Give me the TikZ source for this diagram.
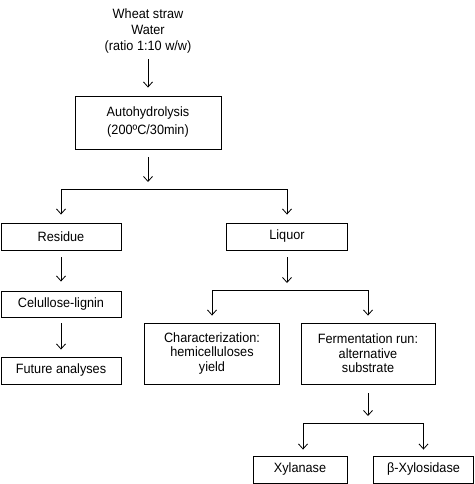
\documentclass[tikz,border=0pt]{standalone}
\usepackage{fontspec}
\setmainfont{Liberation Sans}[FakeStretch=0.94]
\usetikzlibrary{arrows.meta}
\begin{document}
\begin{tikzpicture}[x=1pt,y=-1pt,
  txt/.style={align=center, inner sep=0pt, font=\fontsize{13.5}{15}\selectfont},
  box/.style={txt, draw, line width=0.9pt},
  arr/.style={-{Straight Barb[length=5pt,width=9pt]}, line width=0.8pt},
  ln/.style={line width=0.8pt}]
\useasboundingbox (0,0) rectangle (474,484);
% nodes
\node[txt, font=\fontsize{13.5}{16}\selectfont] (src) at (148,31) {Wheat straw\\Water\\(ratio 1:10 w/w)};
\node[box, font=\fontsize{13.5}{18}\selectfont, minimum width=146pt, minimum height=53pt] (auto) at (148,122.5) {Autohydrolysis\\(200ºC/30min)};
\node[box, minimum width=120pt, minimum height=27pt] (res) at (61,236.5) {Residue};
\node[box, minimum width=121pt, minimum height=27pt] (liq) at (287,236.5) {Liquor};
\node[box, minimum width=120pt, minimum height=26pt] (cel) at (61,304) {Celullose-lignin};
\node[box, minimum width=120pt, minimum height=27pt] (fut) at (61,370.5) {Future analyses};
\node[box, font=\fontsize{13.5}{14.5}\selectfont, minimum width=135pt, minimum height=61pt] (char) at (212,353.5) {Characterization:\\hemicelluloses\\yield};
\node[box, font=\fontsize{13.5}{14.5}\selectfont, minimum width=134pt, minimum height=61pt] (ferm) at (368,353.5) {Fermentation run:\\alternative\\substrate};
\node[box, minimum width=94pt, minimum height=27pt] (xyl) at (300,469.5) {Xylanase};
\node[box, minimum width=100pt, minimum height=27pt] (xylo) at (423.5,469.5) {β-Xylosidase};
% junction coordinates
\coordinate (j1) at (148,189);
\coordinate (j1L) at (61,189);
\coordinate (j1R) at (287,189);
\coordinate (j2) at (287,290);
\coordinate (j2L) at (212,290);
\coordinate (j2R) at (368,290);
\coordinate (j3) at (368,423);
\coordinate (j3L) at (303,423);
\coordinate (j3R) at (423.5,423);
% connectors
\draw[arr, shorten <=6pt, shorten >=8pt] (src) -- (auto);
\draw[arr, shorten <=8pt, shorten >=7pt] (auto) -- (j1);
\draw[ln] (j1L) -- (j1R);
\draw[arr, shorten >=8pt] (j1L) -- (res);
\draw[arr, shorten >=8pt] (j1R) -- (liq);
\draw[arr, shorten <=7pt, shorten >=9pt] (res) -- (cel);
\draw[arr, shorten <=6pt, shorten >=7pt] (cel) -- (fut);
\draw[arr, shorten <=7pt, shorten >=7pt] (liq) -- (j2);
\draw[ln] (j2L) -- (j2R);
\draw[arr, shorten >=7pt] (j2L) -- (char);
\draw[arr, shorten >=7pt] (j2R) -- (ferm);
\draw[arr, shorten <=9pt, shorten >=7pt] (ferm) -- (j3);
\draw[ln] (j3L) -- (j3R);
\draw[arr, shorten >=6pt] (j3L) -- (j3L |- xyl.north);
\draw[arr, shorten >=6pt] (j3R) -- (xylo);
\end{tikzpicture}
\end{document}
